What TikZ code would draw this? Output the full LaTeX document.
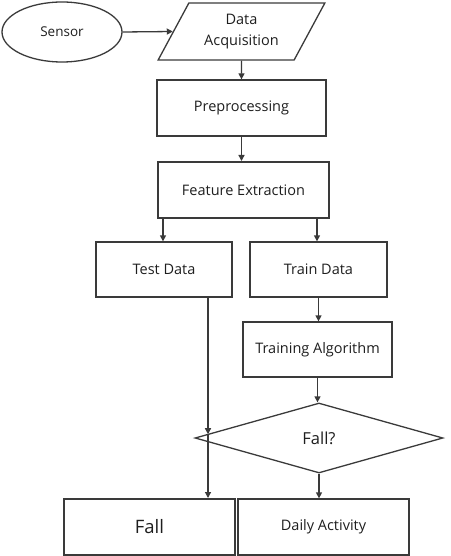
\documentclass[tikz,border=0pt]{standalone}
\usepackage{fontspec}
\setmainfont{Open Sans}
\usetikzlibrary{shapes.geometric,arrows.meta,calc}
\definecolor{ln}{HTML}{3A3A3A}
\definecolor{tx}{HTML}{1E1E1E}
\tikzset{
  box/.style={draw=ln, line width=1.3pt, rectangle, inner sep=0pt, text=tx, font=\fontsize{14.5}{17}\selectfont},
  thickbox/.style={box, line width=2pt},
  arr/.style={draw=ln, line width=1.3pt, -{Triangle[length=6pt,width=6pt]}},
}
\begin{document}
\begin{tikzpicture}[x=1pt,y=-1pt]
\useasboundingbox (0,0) rectangle (450,556);
\node[box, ellipse, minimum width=120pt, minimum height=60pt, font=\fontsize{13.5}{16}\selectfont] (sensor) at (62,32) {Sensor};
\node[box, trapezium, trapezium left angle=58, trapezium right angle=122, trapezium stretches=true,
      minimum width=167pt, minimum height=57pt, align=center, font=\fontsize{14.5}{21}\selectfont] (da) at (241.5,31.5) {Data\\Acquisition};
\node[box, minimum width=169pt, minimum height=56pt] (pre) at (241.5,108) {Preprocessing};
\node[thickbox, minimum width=171pt, minimum height=56pt] (fe) at (243.5,190) {Feature Extraction};
\node[box, minimum width=136pt, minimum height=55pt] (test) at (164,269.5) {Test Data};
\node[box, minimum width=137pt, minimum height=55pt] (train) at (318.5,269.5) {Train Data};
\node[box, minimum width=149pt, minimum height=55pt] (alg) at (317.5,349.5) {Training Algorithm};
\node[box, diamond, minimum width=248pt, minimum height=70pt, font=\fontsize{16.5}{19}\selectfont] (dia) at (319,438) {Fall?};
\node[thickbox, minimum width=171pt, minimum height=56pt, font=\fontsize{18.5}{21}\selectfont] (fall) at (149.5,527) {Fall};
\node[box, minimum width=171pt, minimum height=56pt, font=\fontsize{14.5}{17}\selectfont] (daily) at (323.5,527) {Daily Activity};
\coordinate (j) at ($(dia.west)!0.106!(dia.north)$);
\coordinate (tdx) at (208,0);
\coordinate (fex1) at (163,0);
\coordinate (fex2) at (317,0);
\coordinate (cx) at (241.5,0);
\draw[arr] (sensor.east) -- (da.west);
\draw[arr] (da.south) -- (pre.north);
\draw[arr] (pre.south) -- (fe.north -| cx);
\draw[arr] (fe.south -| fex1) -- (test.north -| fex1);
\draw[arr] (fe.south -| fex2) -- (train.north -| fex2);
\draw[arr] (test.south -| tdx) -- (j -| tdx);
\draw[arr] (j -| tdx) -- (fall.north -| tdx);
\draw[arr] (train.south) -- (train.south |- alg.north);
\draw[arr] (alg.south) -- (alg.south |- dia.north);
\draw[arr] (dia.south) -- (dia.south |- daily.north);
\end{tikzpicture}
\end{document}
